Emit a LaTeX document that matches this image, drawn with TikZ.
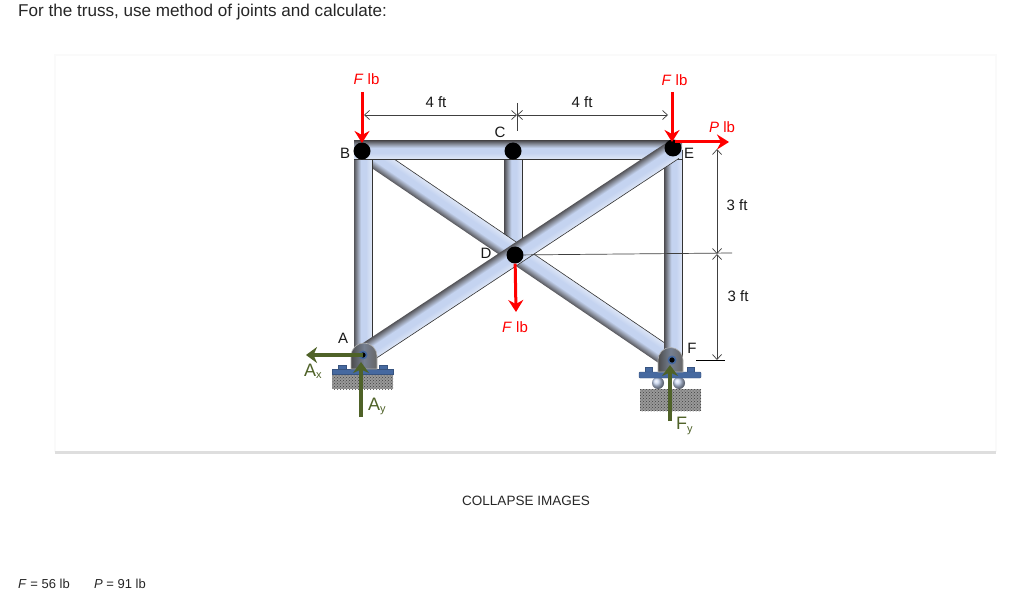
\documentclass[tikz,border=0pt]{standalone}
\usepackage{fontspec}
\setmainfont{Liberation Sans}
\usetikzlibrary{arrows.meta,calc,patterns}

\definecolor{forcered}{RGB}{255,0,0}
\definecolor{reactgreen}{RGB}{79,98,40}
\definecolor{plateblue}{RGB}{70,105,160}
\definecolor{tubelight}{RGB}{196,211,240}
\definecolor{tubepale}{RGB}{222,230,246}
\definecolor{tubedark}{RGB}{85,85,90}
\definecolor{tubemid}{RGB}{140,146,160}

\pgfdeclareverticalshading{tubeshade}{100bp}{color(0bp)=(tubepale); color(25bp)=(tubepale); color(42bp)=(tubelight); color(56bp)=(tubelight); color(66bp)=(tubemid); color(75bp)=(tubedark); color(100bp)=(tubedark)}

\tikzset{
  lab/.style={font=\fontsize{15}{17}\selectfont, inner sep=0pt, text=black!90},
  redlab/.style={lab, text=forcered},
  greenlab/.style={font=\fontsize{18}{20}\selectfont, inner sep=0pt, text=reactgreen},
  joint/.style={circle, fill=black, inner sep=0pt, minimum size=17pt},
  force/.style={forcered, line width=3pt, -{Stealth[length=12pt,width=15pt,inset=4pt]}},
  react/.style={reactgreen, line width=3.2pt, -{Stealth[length=11pt,width=16pt,inset=3.5pt]}},
  dim/.style={black!75, line width=0.7pt, {Straight Barb[length=5pt,width=9pt]}-{Straight Barb[length=5pt,width=9pt]}},
  hair/.style={black!75, line width=0.7pt},
  clevis/.style={left color=black!70, right color=black!60, middle color=tubelight!60!black, draw=white!70!black, line width=0.6pt},
  plate/.style={fill=plateblue, draw=plateblue!80!black, line width=0.4pt},
  ground/.style={pattern=crosshatch dots, pattern color=black!75, draw=none},
}

% one tube of the truss, dark side on the left of the direction
\newcommand{\tube}[3][9pt]{
  \path let \p1=($(#3)-(#2)$), \n1={veclen(\x1,\y1)}, \n2={atan2(\y1,\x1)} in
    \pgfextra{\xdef\tubelen{\n1}\xdef\tubeang{\n2}};
  \begin{scope}[transform canvas={shift={(#2)},rotate=\tubeang}]
    \shade[shading=tubeshade] (0pt,-#1) rectangle (\tubelen,#1);
    \draw[black!80, line width=0.6pt] (0pt,-#1) -- (\tubelen,-#1);
  \end{scope}
}

\begin{document}
\begin{tikzpicture}[x=1pt, y=-1pt]
  \useasboundingbox (0,0) rectangle (1024,601);

  \fill[black!2] (54,54) rectangle (997,452);
  \fill[white] (56,56) rectangle (995,451);
  \draw[black!13, line width=2.4pt] (55,452.5) -- (996,452.5);

  \node[anchor=west, font=\fontsize{17.1}{19}\selectfont, inner sep=0pt, text=black!85] (title) at (18,12) {For the truss, use method of joints and calculate:};
  \node[font=\fontsize{13.5}{15}\selectfont, inner sep=0pt, text=black!85] (collapse) at (526,500.5) {COLLAPSE IMAGES};
  \node[anchor=west, font=\fontsize{13}{15}\selectfont, inner sep=0pt, text=black!85] (valf) at (18,583.5) {\textit{F} = 56 lb};
  \node[anchor=west, font=\fontsize{13}{15}\selectfont, inner sep=0pt, text=black!85] (valp) at (94,583.5) {\textit{P} = 91 lb};

  \coordinate (B) at (363,150);
  \coordinate (C) at (513.5,150);
  \coordinate (E) at (673.5,150);
  \coordinate (D) at (513.5,255);
  \coordinate (A) at (363,355);
  \coordinate (F) at (672,360);

  \coordinate (Bl) at (354,150);
  \coordinate (Er) at (682,150);
  \coordinate (Bt) at (363,141);
  \coordinate (Fb) at (673.5,360);

  \tube{D}{C}
  \tube[10pt]{F}{B}
  \tube{A}{Bt}
  \tube{Fb}{E}
  \tube{Bl}{Er}
  \tube[10pt]{A}{E}

  % left support
  \fill[black!40] (332,374) rectangle (393,389);
  \fill[ground] (332,374) rectangle (393,389);
  \draw[plate] (338,365) rectangle (346,370);
  \draw[plate] (379,365) rectangle (387,370);
  \draw[plate] (332,369) rectangle (393,374);
  \draw[clevis] (351,369) -- (351,356) arc (180:0:13 and -13) -- (377,369) -- cycle;
  \fill[plateblue] (A) circle (4.5pt);
  \fill[black] (A) circle (2.6pt);

  % right support
  \fill[black!40] (640,389) rectangle (701,411);
  \fill[ground] (640,389) rectangle (701,411);
  \shade[ball color=tubelight] (658,383) circle (6pt);
  \shade[ball color=tubelight] (679,383) circle (6pt);
  \draw[plate] (645,367) rectangle (652,372);
  \draw[plate] (687,367) rectangle (694,372);
  \draw[plate, rounded corners=1pt] (639,372) rectangle (701,378);
  \draw[clevis] (658,372) -- (658,360) arc (180:0:12.5 and -12.5) -- (683,372) -- cycle;
  \fill[plateblue] (F) circle (4.5pt);
  \fill[black] (F) circle (2.6pt);

  \node[joint] (jB) at (362,151) {};
  \node[joint] (jC) at (513,151) {};
  \node[joint] (jE) at (673,148) {};
  \node[joint] (jD) at (515,255) {};

  % dimensions
  \coordinate (dimL) at (364,115);
  \coordinate (dimM) at (517,115);
  \coordinate (dimR) at (668,115);
  \draw[dim] (dimL) -- (dimM);
  \draw[dim] (dimM) -- (dimR);
  \coordinate (tickT) at (517,103);
  \coordinate (tickB) at (517,131);
  \draw[hair] (tickT) -- (tickB);

  \coordinate (dimT) at (717,149);
  \coordinate (dimC) at (717,254);
  \coordinate (dimU) at (717,360);
  \draw[dim] (dimT) -- (dimC);
  \draw[dim] (dimC) -- (dimU);
  \coordinate (tickR) at (732,253);
  \draw[hair] (jD) -- (tickR);
  \coordinate (baseL) at (696,360);
  \coordinate (baseR) at (725,360);
  \draw[black, line width=0.8pt] (baseL) -- (baseR);

  % loads
  \coordinate (loadB) at (362,92);
  \coordinate (endB) at (362,143);
  \coordinate (loadE) at (672,92);
  \coordinate (endE) at (672,142);
  \coordinate (loadP) at (729,142);
  \coordinate (tailP) at (675,142);
  \coordinate (loadD) at (516,312);
  \draw[force] (loadB) -- (endB);
  \draw[force] (loadE) -- (endE);
  \draw[force] (tailP) -- (loadP);
  \draw[force] (jD) -- (loadD);

  % reactions
  \coordinate (tipAx) at (306,355);
  \coordinate (tailAy) at (361,417);
  \coordinate (tipAy) at (361,362);
  \coordinate (tailFy) at (670,421);
  \coordinate (tipFy) at (670,365);
  \draw[react] (A) -- (tipAx);
  \draw[react] (tailAy) -- (tipAy);
  \draw[react] (tailFy) -- (tipFy);

  % labels
  \node[redlab] (lF1) at (366.5,79) {\textit{F} lb};
  \node[redlab] (lF2) at (674.5,80) {\textit{F} lb};
  \node[redlab] (lP) at (722,127) {\textit{P} lb};
  \node[redlab] (lF3) at (515,327) {\textit{F} lb};
  \node[lab] (lB) at (345,153) {B};
  \node[lab] (lC) at (500,132) {C};
  \node[lab] (lD) at (486,253) {D};
  \node[lab] (lE) at (689,153) {E};
  \node[lab] (lA) at (343,338) {A};
  \node[lab] (lFj) at (692,348) {F};
  \node[lab] (d1) at (436,102) {4 ft};
  \node[lab] (d2) at (582,102) {4 ft};
  \node[lab] (d3) at (737,205) {3 ft};
  \node[lab] (d4) at (738,296) {3 ft};
  \node[greenlab, anchor=base west] (lAx) at (304,376) {A\raisebox{-2pt}{\fontsize{11}{12}\selectfont x}};
  \node[greenlab, anchor=base west] (lAy) at (368,410) {A\raisebox{-2pt}{\fontsize{11}{12}\selectfont y}};
  \node[greenlab, anchor=base west] (lFy) at (676,429) {F\raisebox{-3pt}{\fontsize{11}{12}\selectfont y}};
\end{tikzpicture}
\end{document}
